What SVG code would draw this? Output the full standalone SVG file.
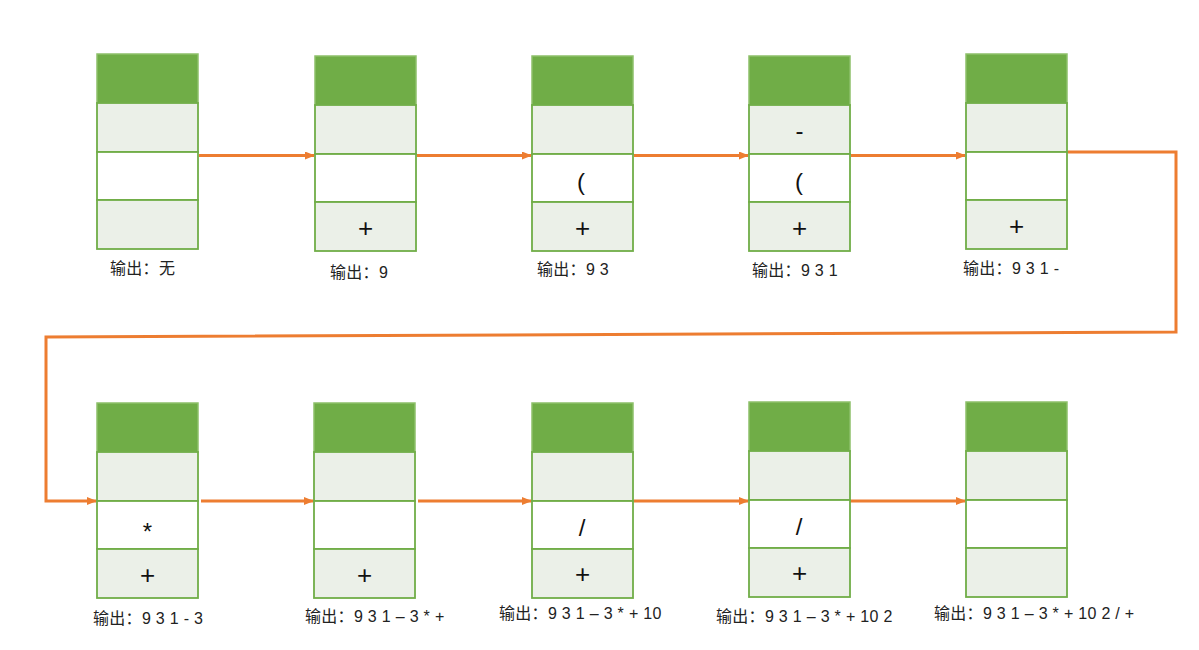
<svg xmlns="http://www.w3.org/2000/svg" width="1199" height="650" viewBox="0 0 1199 650">
<style>
.dark{fill:#70AD47;stroke:#8DC06A;stroke-width:1.5}
.light{fill:#EBF0E8;stroke:#70AD47;stroke-width:1.8}
.white{fill:#FFFFFF;stroke:#70AD47;stroke-width:1.8}
.sym{font-family:"Liberation Sans","Noto Sans CJK SC",sans-serif;font-size:24px;fill:#111;text-anchor:middle}
.plus{font-size:26px}
.lbl{font-family:"Liberation Sans","Noto Sans CJK SC",sans-serif;font-size:16px;fill:#222;letter-spacing:0.3px}
.conn{fill:none;stroke:#ED7D31;stroke-width:3}
</style>
<defs>
<marker id="ah" markerWidth="10" markerHeight="8" refX="9" refY="4" orient="auto" markerUnits="userSpaceOnUse">
<path d="M0,0 L10,4 L0,8 Z" fill="#ED7D31"/>
</marker>
</defs>
<rect width="1199" height="650" fill="#FFFFFF"/>
<g id="connectors">
<line class="conn" x1="199" y1="155.5" x2="314" y2="155.5" marker-end="url(#ah)"/>
<line class="conn" x1="417" y1="155.5" x2="531" y2="155.5" marker-end="url(#ah)"/>
<line class="conn" x1="634" y1="155.5" x2="748" y2="155.5" marker-end="url(#ah)"/>
<line class="conn" x1="851" y1="155.5" x2="965" y2="155.5" marker-end="url(#ah)"/>
<polyline class="conn" points="1068,152 1176,152 1176,332 46,337 46,501 96,501" marker-end="url(#ah)"/>
<line class="conn" x1="201" y1="501" x2="313" y2="501" marker-end="url(#ah)"/>
<line class="conn" x1="418" y1="501" x2="531" y2="501" marker-end="url(#ah)"/>
<line class="conn" x1="634" y1="501" x2="748" y2="501" marker-end="url(#ah)"/>
<line class="conn" x1="850" y1="501" x2="965" y2="501" marker-end="url(#ah)"/>
</g>
<g id="stack1">
<rect class="dark" x="97" y="54" width="101" height="49"/>
<rect class="light" x="97" y="103" width="101" height="49"/>
<rect class="white" x="97" y="152" width="101" height="48"/>
<rect class="light" x="97" y="200" width="101" height="49"/>
<text class="lbl" x="110" y="274">输出：无</text>
</g>
<g id="stack2">
<rect class="dark" x="315" y="56" width="101" height="49"/>
<rect class="light" x="315" y="105" width="101" height="49"/>
<rect class="white" x="315" y="154" width="101" height="48"/>
<rect class="light" x="315" y="202" width="101" height="49"/>
<text class="sym plus" x="365.5" y="237">+</text>
<text class="lbl" x="330" y="278">输出：9</text>
</g>
<g id="stack3">
<rect class="dark" x="532" y="56" width="101" height="49"/>
<rect class="light" x="532" y="105" width="101" height="49"/>
<rect class="white" x="532" y="154" width="101" height="48"/>
<rect class="light" x="532" y="202" width="101" height="49"/>
<text class="sym" x="581" y="190">(</text>
<text class="sym plus" x="582.5" y="237">+</text>
<text class="lbl" x="537" y="275">输出：9 3</text>
</g>
<g id="stack4">
<rect class="dark" x="749" y="56" width="101" height="49"/>
<rect class="light" x="749" y="105" width="101" height="49"/>
<rect class="white" x="749" y="154" width="101" height="48"/>
<rect class="light" x="749" y="202" width="101" height="49"/>
<text class="sym" x="799.5" y="139">-</text>
<text class="sym" x="799" y="190">(</text>
<text class="sym plus" x="799.5" y="237">+</text>
<text class="lbl" x="752" y="276">输出：9 3 1</text>
</g>
<g id="stack5">
<rect class="dark" x="966" y="54" width="101" height="49"/>
<rect class="light" x="966" y="103" width="101" height="49"/>
<rect class="white" x="966" y="152" width="101" height="48"/>
<rect class="light" x="966" y="200" width="101" height="49"/>
<text class="sym plus" x="1016.5" y="235">+</text>
<text class="lbl" x="963" y="274">输出：9 3 1 -</text>
</g>
<g id="stack6">
<rect class="dark" x="97" y="403" width="101" height="49"/>
<rect class="light" x="97" y="452" width="101" height="49"/>
<rect class="white" x="97" y="501" width="101" height="48"/>
<rect class="light" x="97" y="549" width="101" height="49"/>
<text class="sym" x="147.5" y="540">*</text>
<text class="sym plus" x="147.5" y="584">+</text>
<text class="lbl" x="93" y="624">输出：9 3 1 - 3</text>
</g>
<g id="stack7">
<rect class="dark" x="314" y="403" width="101" height="49"/>
<rect class="light" x="314" y="452" width="101" height="49"/>
<rect class="white" x="314" y="501" width="101" height="48"/>
<rect class="light" x="314" y="549" width="101" height="49"/>
<text class="sym plus" x="364.5" y="584">+</text>
<text class="lbl" x="305" y="622">输出：9 3 1 – 3 * +</text>
</g>
<g id="stack8">
<rect class="dark" x="532" y="403" width="101" height="49"/>
<rect class="light" x="532" y="452" width="101" height="49"/>
<rect class="white" x="532" y="501" width="101" height="48"/>
<rect class="light" x="532" y="549" width="101" height="49"/>
<text class="sym" x="582" y="536">/</text>
<text class="sym plus" x="582.5" y="583">+</text>
<text class="lbl" x="499" y="619">输出：9 3 1 – 3 * + 10</text>
</g>
<g id="stack9">
<rect class="dark" x="749" y="402" width="101" height="49"/>
<rect class="light" x="749" y="451" width="101" height="49"/>
<rect class="white" x="749" y="500" width="101" height="48"/>
<rect class="light" x="749" y="548" width="101" height="49"/>
<text class="sym" x="799" y="535">/</text>
<text class="sym plus" x="799.5" y="582">+</text>
<text class="lbl" x="716" y="622">输出：9 3 1 – 3 * + 10 2</text>
</g>
<g id="stack10">
<rect class="dark" x="966" y="402" width="101" height="49"/>
<rect class="light" x="966" y="451" width="101" height="49"/>
<rect class="white" x="966" y="500" width="101" height="48"/>
<rect class="light" x="966" y="548" width="101" height="49"/>
<text class="lbl" x="934" y="619">输出：9 3 1 – 3 * + 10 2 / +</text>
</g>
</svg>
